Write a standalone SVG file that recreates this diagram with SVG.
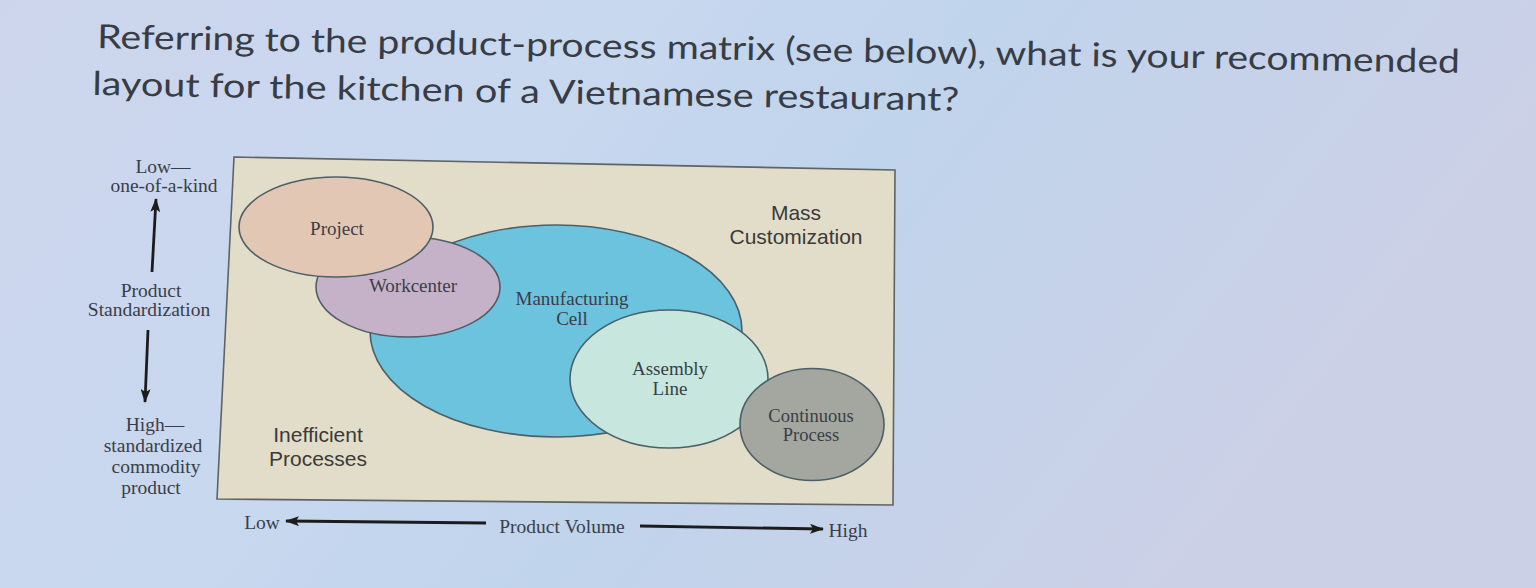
<svg xmlns="http://www.w3.org/2000/svg" width="1536" height="588" viewBox="0 0 1536 588">
  <defs>
    <linearGradient id="bg" x1="0" y1="0" x2="1" y2="0.3">
      <stop offset="0" stop-color="#cdd5ec"/>
      <stop offset="0.35" stop-color="#c8d8ef"/>
      <stop offset="0.6" stop-color="#c0d4ec"/>
      <stop offset="1" stop-color="#ccd0e6"/>
    </linearGradient>
    <marker id="head" viewBox="0 0 14 10" refX="13" refY="5" markerWidth="14" markerHeight="10" markerUnits="userSpaceOnUse" orient="auto">
      <path d="M0,0 L14,5 L0,10 L3,5 Z" fill="#1c1c1c"/>
    </marker>
    <style>
      .title { font-family: Lato, "Open Sans", sans-serif; font-size: 33px; fill: #383c44; }
      .ser { font-family: "Liberation Serif", "Times New Roman", serif; font-size: 19px; fill: #3a3e48; text-anchor: middle; }
      .side { font-family: "Liberation Serif", "Times New Roman", serif; font-size: 19.5px; fill: #3a3e48; text-anchor: middle; }
      .sans { font-family: "Liberation Sans", Arial, sans-serif; font-size: 21px; fill: #3a3a3a; text-anchor: middle; }
      .ell { stroke: #4d5f68; stroke-width: 1.6; }
      .arr { stroke: #1c1c1c; stroke-width: 2.8; fill: none; marker-end: url(#head); }
    </style>
  </defs>

  <rect x="0" y="0" width="1536" height="588" fill="url(#bg)"/>

  <g id="title" transform="rotate(1.05 97 48)">
    <text class="title" x="97" y="48" textLength="1363" lengthAdjust="spacingAndGlyphs">Referring to the product-process matrix (see below), what is your recommended</text>
    <text class="title" x="93" y="95" textLength="867" lengthAdjust="spacingAndGlyphs">layout for the kitchen of a Vietnamese restaurant?</text>
  </g>

  <g id="matrix">
    <polygon points="234,157 895,170 893,505 217,499" fill="#e2ddc8" stroke="#5f6366" stroke-width="1.6"/>
  </g>

  <g id="manufacturing-cell">
    <ellipse class="ell" cx="556" cy="331" rx="186" ry="106" fill="#6cc3dd"/>
    <text class="ser" x="572" y="305">Manufacturing</text>
    <text class="ser" x="572" y="325">Cell</text>
  </g>

  <g id="assembly-line">
    <ellipse class="ell" cx="669" cy="379" rx="99" ry="69" fill="#c6e6de"/>
    <text class="ser" x="670" y="375">Assembly</text>
    <text class="ser" x="670" y="395">Line</text>
  </g>

  <g id="continuous-process">
    <ellipse class="ell" cx="812" cy="424.5" rx="72" ry="56" fill="#a3a79f"/>
    <text class="ser" x="811" y="422" style="font-size:18.5px">Continuous</text>
    <text class="ser" x="811" y="441" style="font-size:18.5px">Process</text>
  </g>

  <g id="workcenter">
    <ellipse class="ell" cx="408" cy="287" rx="92" ry="50" fill="#c5b2c8"/>
    <text class="ser" x="413" y="292">Workcenter</text>
  </g>

  <g id="project">
    <ellipse class="ell" cx="336" cy="227" rx="97" ry="50" fill="#e3c7b5"/>
    <text class="ser" x="337" y="235">Project</text>
  </g>

  <g id="mass-customization">
    <text class="sans" x="796" y="220">Mass</text>
    <text class="sans" x="796" y="244">Customization</text>
  </g>

  <g id="inefficient-processes">
    <text class="sans" x="318" y="442">Inefficient</text>
    <text class="sans" x="318" y="466">Processes</text>
  </g>

  <g id="axis-labels">
    <text class="side" x="163" y="173">Low—</text>
    <text class="side" x="164" y="192">one-of-a-kind</text>
    <text class="side" x="151" y="297">Product</text>
    <text class="side" x="149" y="316">Standardization</text>
    <text class="side" x="155" y="431">High—</text>
    <text class="side" x="153" y="452">standardized</text>
    <text class="side" x="156" y="473">commodity</text>
    <text class="side" x="151" y="494">product</text>
    <text class="side" x="262" y="529">Low</text>
    <text class="side" x="562" y="533">Product Volume</text>
    <text class="side" x="848" y="537">High</text>
  </g>

  <g id="connectors">
    <line class="arr" x1="152" y1="272" x2="156" y2="199"/>
    <line class="arr" x1="148" y1="330" x2="145" y2="402"/>
    <line class="arr" x1="486" y1="523" x2="286" y2="521"/>
    <line class="arr" x1="640" y1="526" x2="823" y2="529"/>
  </g>
</svg>
